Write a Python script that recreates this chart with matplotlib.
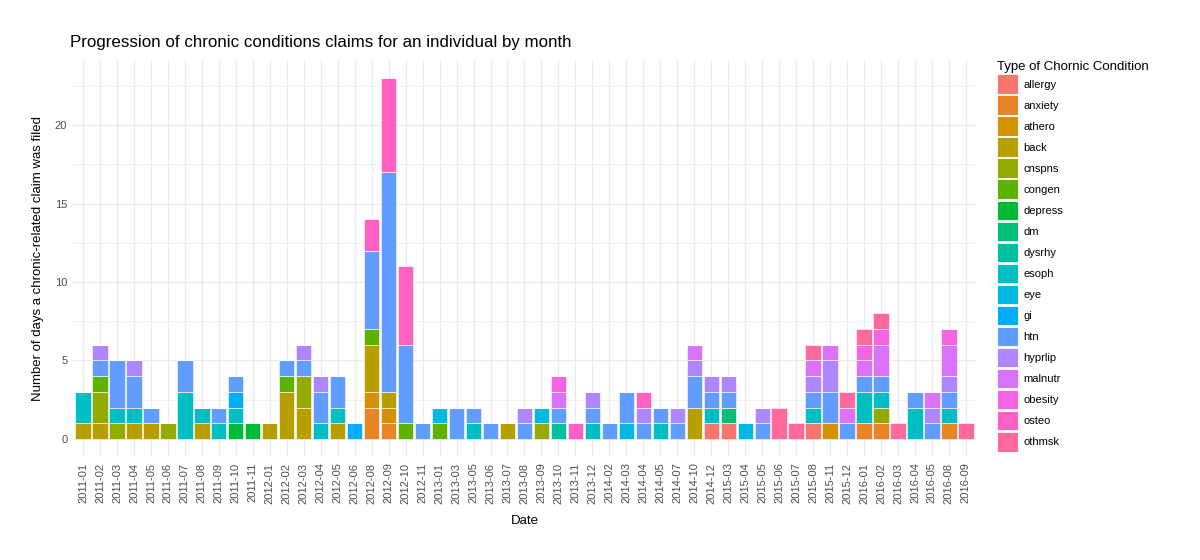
import numpy as np
import matplotlib
matplotlib.use("Agg")
import matplotlib.pyplot as plt
from matplotlib.patches import Patch

plt.rcParams['font.family'] = ['Liberation Sans', 'DejaVu Sans']

months = ["2011-01", "2011-02", "2011-03", "2011-04", "2011-05", "2011-06", "2011-07", "2011-08",
          "2011-09", "2011-10", "2011-11", "2012-01", "2012-02", "2012-03", "2012-04", "2012-05",
          "2012-06", "2012-08", "2012-09", "2012-10", "2012-11", "2013-01", "2013-03", "2013-05",
          "2013-06", "2013-07", "2013-08", "2013-09", "2013-10", "2013-11", "2013-12", "2014-02",
          "2014-03", "2014-04", "2014-05", "2014-07", "2014-10", "2014-12", "2015-03", "2015-04",
          "2015-05", "2015-06", "2015-07", "2015-08", "2015-11", "2015-12", "2016-01", "2016-02",
          "2016-03", "2016-04", "2016-05", "2016-08", "2016-09"]

conditions = ["allergy", "anxiety", "athero", "back", "cnspns", "congen", "depress", "dm", "dysrhy",
              "esoph", "eye", "gi", "htn", "hyprlip", "malnutr", "obesity", "osteo", "othmsk"]

# days per month for each condition (53 months)
allergy = [0,0,0,0,0,0,0,0,0,0, 0,0,0,0,0,0,0,0,0,0, 0,0,0,0,0,0,0,0,0,0, 0,0,0,0,0,0,0,1,1,0, 0,0,0,1,0,0,0,0,0,0, 0,0,0]
anxiety = [0,0,0,0,0,0,0,0,0,0, 0,0,0,0,0,0,0,2,1,0, 0,0,0,0,0,0,0,0,0,0, 0,0,0,0,0,0,0,0,0,0, 0,0,0,0,0,0,1,1,0,0, 0,1,0]
athero  = [0,0,0,0,0,0,0,0,0,0, 0,0,0,0,0,0,0,1,1,0, 0,0,0,0,0,0,0,0,0,0, 0,0,0,0,0,0,0,0,0,0, 0,0,0,0,1,0,0,0,0,0, 0,0,0]
back    = [1,1,0,1,1,0,0,1,0,0, 0,1,3,2,0,1,0,3,1,0, 0,0,0,0,0,1,0,0,0,0, 0,0,0,0,0,0,2,0,0,0, 0,0,0,0,0,0,0,0,0,0, 0,0,0]
cnspns  = [0,2,1,0,0,1,0,0,0,0, 0,0,0,2,0,0,0,0,0,0, 0,0,0,0,0,0,0,1,0,0, 0,0,0,0,0,0,0,0,0,0, 0,0,0,0,0,0,0,1,0,0, 0,0,0]
congen  = [0,1,0,0,0,0,0,0,0,0, 0,0,1,0,0,0,0,1,0,1, 0,1,0,0,0,0,0,0,0,0, 0,0,0,0,0,0,0,0,0,0, 0,0,0,0,0,0,0,0,0,0, 0,0,0]
depress = [0,0,0,0,0,0,0,0,0,1, 1,0,0,0,0,0,0,0,0,0, 0,0,0,0,0,0,0,0,0,0, 0,0,0,0,0,0,0,0,0,0, 0,0,0,0,0,0,0,0,0,0, 0,0,0]
dm      = [0,0,0,0,0,0,0,0,0,0, 0,0,0,0,0,0,0,0,0,0, 0,0,0,0,0,0,0,0,0,0, 0,0,0,0,0,0,0,0,1,0, 0,0,0,0,0,0,0,0,0,0, 0,0,0]
dysrhy  = [0,0,0,0,0,0,0,0,0,0, 0,0,0,0,0,0,0,0,0,0, 0,0,0,0,0,0,0,0,1,0, 0,0,0,0,0,0,0,0,0,0, 0,0,0,0,0,0,0,0,0,0, 0,0,0]
esoph   = [2,0,1,1,0,0,3,1,1,1, 0,0,0,0,1,1,0,0,0,0, 0,0,0,1,0,0,0,0,0,0, 1,0,0,0,1,0,0,1,0,0, 0,0,0,1,0,0,2,1,0,2, 0,1,0]
eye     = [0,0,0,0,0,0,0,0,0,0, 0,0,0,0,0,0,0,0,0,0, 0,1,0,0,0,0,0,1,0,0, 0,0,1,0,0,0,0,0,0,1, 0,0,0,0,0,0,0,0,0,0, 0,0,0]
gi      = [0,0,0,0,0,0,0,0,0,1, 0,0,0,0,0,0,1,0,0,0, 0,0,0,0,0,0,0,0,0,0, 0,0,0,0,0,0,0,0,0,0, 0,0,0,0,0,0,0,0,0,0, 0,0,0]
htn     = [0,1,3,2,1,0,2,0,1,1, 0,0,1,1,2,2,0,5,14,5, 1,0,2,1,1,0,1,0,1,0, 1,1,2,1,1,1,2,1,1,0, 1,0,0,1,2,1,1,1,0,1, 1,1,0]
hyprlip = [0,1,0,1,0,0,0,0,0,0, 0,0,0,1,1,0,0,0,0,0, 0,0,0,0,0,0,1,0,0,0, 1,0,0,1,0,1,1,1,1,0, 1,0,0,1,2,0,0,0,0,0, 1,1,0]
malnutr = [0,0,0,0,0,0,0,0,0,0, 0,0,0,0,0,0,0,0,0,0, 0,0,0,0,0,0,0,0,1,0, 0,0,0,0,0,0,1,0,0,0, 0,0,0,1,1,1,1,2,0,0, 1,2,0]
obesity = [0,0,0,0,0,0,0,0,0,0, 0,0,0,0,0,0,0,0,0,0, 0,0,0,0,0,0,0,0,1,0, 0,0,0,0,0,0,0,0,0,0, 0,0,0,0,0,0,1,1,0,0, 0,1,0]
osteo   = [0,0,0,0,0,0,0,0,0,0, 0,0,0,0,0,0,0,2,6,5, 0,0,0,0,0,0,0,0,0,1, 0,0,0,1,0,0,0,0,0,0, 0,0,0,0,0,0,0,0,0,0, 0,0,0]
othmsk  = [0,0,0,0,0,0,0,0,0,0, 0,0,0,0,0,0,0,0,0,0, 0,0,0,0,0,0,0,0,0,0, 0,0,0,0,0,0,0,0,0,0, 0,2,1,1,0,1,1,1,1,0, 0,0,1]

series = [allergy, anxiety, athero, back, cnspns, congen, depress, dm, dysrhy,
          esoph, eye, gi, htn, hyprlip, malnutr, obesity, osteo, othmsk]


def hcl_to_rgb(h, c=100, l=65):
    # polar Luv -> sRGB, like R's hcl()
    hr = np.deg2rad(h)
    u, v = c * np.cos(hr), c * np.sin(hr)
    Xn, Yn, Zn = 95.047, 100.0, 108.883
    Y = Yn * ((l + 16) / 116) ** 3
    un = 4 * Xn / (Xn + 15 * Yn + 3 * Zn)
    vn = 9 * Yn / (Xn + 15 * Yn + 3 * Zn)
    up = u / (13 * l) + un
    vp = v / (13 * l) + vn
    X = Y * 9 * up / (4 * vp)
    Z = Y * (12 - 3 * up - 20 * vp) / (4 * vp)
    xyz = np.array([X, Y, Z]) / 100
    m = np.array([[3.2404542, -1.5371385, -0.4985314],
                  [-0.9692660, 1.8760108, 0.0415560],
                  [0.0556434, -0.2040259, 1.0572252]])
    rgb = m @ xyz
    rgb = np.where(rgb <= 0.0031308, 12.92 * rgb, 1.055 * np.clip(rgb, 0, None) ** (1 / 2.4) - 0.055)
    return tuple(np.clip(rgb, 0, 1))


hues = np.linspace(15, 375, len(conditions) + 1)[:-1]
colors = [hcl_to_rgb(h) for h in hues]

fig = plt.figure(figsize=(12, 5.6), dpi=100)
ax = fig.add_axes([0.0607, 0.184, 0.7527, 0.709])

x = np.arange(len(months))
bottom = np.zeros(len(months))
for name, vals, col in zip(conditions, series, colors):
    vals = np.array(vals, dtype=float)
    ax.bar(x, vals, bottom=bottom, width=0.9, color=col, edgecolor='white', linewidth=0.4, zorder=3)
    bottom += vals

ax.set_xlim(-0.6, len(months) - 0.4)
ax.set_ylim(-1.15, 24.15)
ax.set_xticks(x)
ax.set_xticklabels(months, rotation=90, fontsize=8, color='#4D4D4D')
ax.set_yticks([0, 5, 10, 15, 20])
ax.set_yticks([2.5, 7.5, 12.5, 17.5, 22.5], minor=True)
ax.tick_params(axis='y', labelsize=8, colors='#4D4D4D', length=0, pad=4)
ax.tick_params(axis='x', length=0, pad=4)
ax.tick_params(which='minor', length=0)
ax.grid(which='major', color='#EBEBEB', linewidth=1.0, zorder=0)
ax.grid(which='minor', axis='y', color='#EBEBEB', linewidth=0.5, zorder=0)
ax.set_axisbelow(True)
for s in ax.spines.values():
    s.set_visible(False)

ax.set_xlabel('Date', fontsize=9.5, labelpad=8)
ax.set_ylabel('Number of days a chronic-related claim was filed', fontsize=9.5, labelpad=8)
fig.text(70 / 1200, 1 - 42 / 560, 'Progression of chronic conditions claims for an individual by month',
         fontsize=12.2, va='center', ha='left')

handles = [Patch(facecolor=c, edgecolor='white', linewidth=0.6) for c in colors]
leg = fig.legend(handles, conditions, loc='upper left', bbox_to_anchor=(997 / 1200, 1 - 61 / 560),
                 frameon=False, fontsize=8, title='Type of Chornic Condition', title_fontsize=9.5,
                 handlelength=1.9, handleheight=2.35, labelspacing=0.12, handletextpad=0.45,
                 borderpad=0, borderaxespad=0, alignment='left')

fig.savefig('out.png', dpi=100, facecolor='white')
